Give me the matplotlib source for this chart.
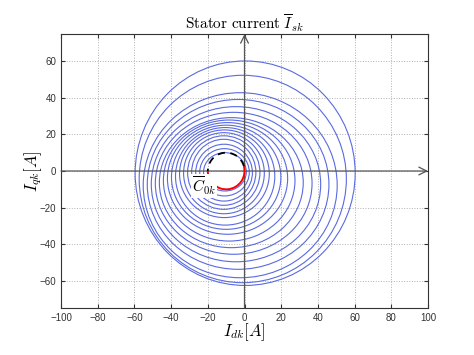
import matplotlib
matplotlib.use("Agg")
import matplotlib.pyplot as plt
from matplotlib.patches import Ellipse, Arc

plt.rcParams['mathtext.fontset'] = 'cm'
plt.rcParams['font.family'] = ['Liberation Sans', 'DejaVu Sans']

# extents of each current loop (inner -> outer)
loop_left = [-22.3, -24.4, -26.6, -28.8, -31.0, -33.2, -35.4, -37.6, -39.8,
             -42.0, -44.2, -46.4, -48.6, -50.8, -53.0, -55.2, -57.4, -59.6]
loop_right = [1.0, 2.6, 4.3, 6.2, 8.4, 10.8, 13.5, 16.5, 19.8,
              23.5, 27.5, 32.0, 36.8, 41.5, 46.0, 50.5, 55.5, 60.3]
loop_top = [10.0, 12.2, 14.6, 17.3, 19.2, 20.9, 22.4, 23.7, 25.0,
            26.4, 27.8, 29.1, 32.0, 35.1, 39.0, 42.7, 52.2, 60.0]
loop_bottom = [-10.9, -13.6, -16.4, -18.7, -20.9, -23.3, -25.4, -29.5, -31.8,
               -34.5, -38.2, -41.8, -45.4, -49.5, -53.6, -58.2, -60.9, -62.4]

# C_0k circle
c0_center = (-10.0, 0.0)
c0_radius = 10.0
c0_split = 15.0   # angle (deg) where red part ends and dashed begins

xticks = [-100, -80, -60, -40, -20, 0, 20, 40, 60, 80, 100]
yticks = [-60, -40, -20, 0, 20, 40, 60]

fig = plt.figure(figsize=(4.74, 3.55), dpi=100)
ax = fig.add_axes([0.1287, 0.1324, 0.7743, 0.7718])
ax.set_xlim(-100, 100)
ax.set_ylim(-74.7, 74.7)

ax.grid(True, linestyle=':', color='#b0b0b0', linewidth=0.7)
ax.set_axisbelow(True)

# axis lines with arrow heads
ax.annotate('', xy=(100, 0), xytext=(-100, 0),
            arrowprops=dict(arrowstyle='->', color='#555555', lw=0.9,
                            mutation_scale=14, shrinkA=0, shrinkB=0))
ax.annotate('', xy=(0, 74.7), xytext=(0, -74.7),
            arrowprops=dict(arrowstyle='->', color='#555555', lw=0.9,
                            mutation_scale=14, shrinkA=0, shrinkB=0))

for l, r, t, b in zip(loop_left, loop_right, loop_top, loop_bottom):
    e = Ellipse(((l + r) / 2, (t + b) / 2), r - l, t - b, fill=False,
                edgecolor='#5a6ae0', linewidth=0.8)
    ax.add_patch(e)

ax.add_patch(Arc(c0_center, 2 * c0_radius, 2 * c0_radius, theta1=180,
                 theta2=360 + c0_split, color='red', linewidth=1.4, zorder=4))
ax.add_patch(Arc(c0_center, 2 * c0_radius, 2 * c0_radius, theta1=c0_split,
                 theta2=180, color='black', linewidth=1.3, linestyle=(0, (4, 3)),
                 zorder=4))

ax.text(-22, -8, r'$\overline{C}_{0k}$', fontsize=11, ha='center', va='center',
        bbox=dict(facecolor='white', edgecolor='none', pad=0.5), zorder=5)

ax.set_xticks(xticks)
ax.set_yticks(yticks)
ax.tick_params(direction='in', length=3, labelsize=7, colors='#333333',
               top=True, right=True)
for s in ax.spines.values():
    s.set_linewidth(0.8)
    s.set_color('#333333')

ax.set_title(r'$\mathrm{Stator\ current}\ \overline{I}_{sk}$', fontsize=11, pad=3)
ax.set_xlabel(r'$I_{dk}[A]$', fontsize=12)
ax.set_ylabel(r'$I_{qk}[A]$', fontsize=12)
ax.xaxis.set_label_coords(0.5, -0.05)
ax.yaxis.set_label_coords(-0.045, 0.5)

fig.savefig('out.png', dpi=100)
